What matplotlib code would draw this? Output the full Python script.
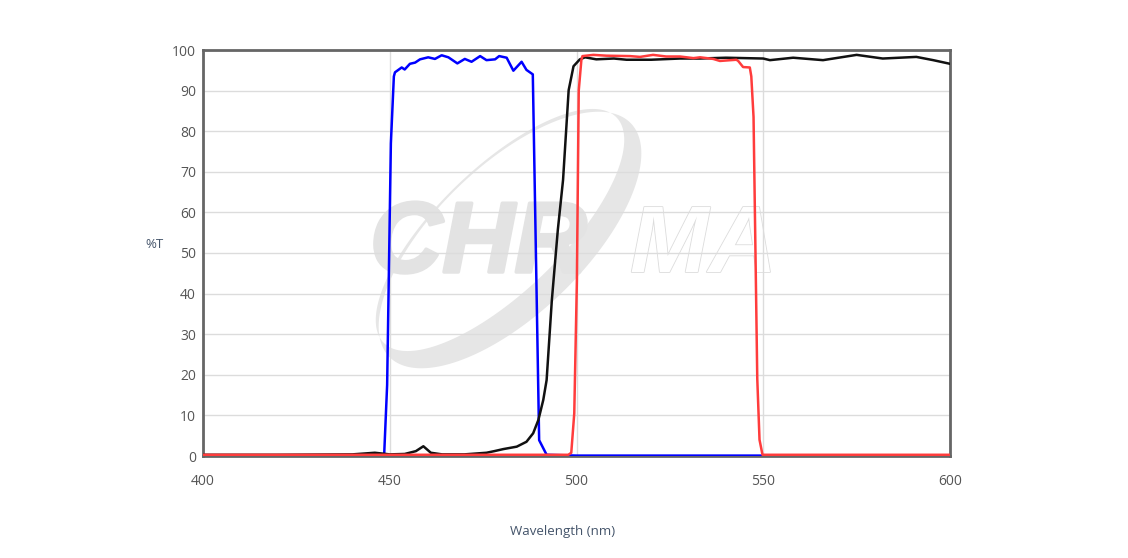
import numpy as np
import matplotlib
matplotlib.use("Agg")
import matplotlib.pyplot as plt
import matplotlib.patheffects as pe

plt.rcParams['font.family'] = ['Open Sans', 'DejaVu Sans']

# transmission curves (wavelength nm, %T)
blue_wl = [400, 420, 440, 448.5, 449.3, 450.3, 451.1, 451.4, 453.2, 454.0, 455.4, 456.8,
           458.1, 460.3, 462.1, 463.9, 465.7, 468.1, 470.1, 471.9, 474.2, 475.9, 478.2,
           479.3, 481.3, 483.1, 485.3, 486.6, 488.3, 490.0, 492.0, 500, 550, 600]
blue_t = [0.1, 0.1, 0.1, 0.2, 17.5, 77, 93.5, 94.5, 95.7, 95.2, 96.6, 96.9,
          97.7, 98.2, 97.8, 98.7, 98.2, 96.7, 97.8, 97.1, 98.5, 97.5, 97.7,
          98.5, 98.1, 94.9, 97.1, 95.1, 94.0, 3.9, 0.3, 0.1, 0.1, 0.1]

black_wl = [400, 420, 440, 446, 450, 454, 457, 459, 461, 464, 470, 475.9, 478, 480.4,
            484, 486.6, 488.4, 489.8, 491.1, 492, 493.4, 495, 496.4, 497.9, 499.2, 500.9,
            502.3, 505.3, 510, 513.4, 520, 527.7, 533.1, 540, 545, 550, 551.8, 558, 566,
            575, 582, 591, 595.5, 600]
black_t = [0.3, 0.3, 0.4, 0.8, 0.4, 0.5, 1.2, 2.4, 0.8, 0.4, 0.4, 0.8, 1.2, 1.7,
           2.3, 3.5, 5.6, 8.9, 13.8, 18.7, 38.4, 55.7, 68, 90.1, 96, 97.7,
           98.2, 97.7, 97.9, 97.6, 97.6, 97.9, 97.9, 98.1, 98.0, 97.9, 97.5, 98.1, 97.5,
           98.8, 97.9, 98.3, 97.5, 96.6]

red_wl = [400, 450, 497.8, 498.6, 499.4, 500.1, 500.6, 501.3, 501.6, 504.5, 508, 514.3,
          517, 520.5, 524, 527.7, 531.3, 533.1, 536.6, 538.4, 542.8, 543.3, 544.6, 546.4,
          546.8, 547.4, 548.4, 549.0, 549.8, 555, 600]
red_t = [0.3, 0.3, 0.3, 0.8, 10.5, 43, 90, 97.5, 98.5, 98.8, 98.6, 98.5,
         98.3, 98.8, 98.4, 98.4, 98, 98.2, 97.8, 97.3, 97.6, 97.3, 95.8, 95.7,
         93.5, 83.5, 19, 4, 0.3, 0.3, 0.3]

x_ticks = [400, 450, 500, 550, 600]
y_ticks = list(range(0, 101, 10))

W, H = 1128, 558
fig = plt.figure(figsize=(W / 100, H / 100), dpi=100)
ax = fig.add_axes([203 / W, 1 - 456 / H, (950 - 203) / W, (456 - 50) / H])


def px(x, y):
    # pixel position -> figure fraction
    return np.asarray(x) / W, 1 - np.asarray(y) / H


def ring(cx, cy, a, b, deg):
    t = np.linspace(0, 2 * np.pi, 300)
    r = np.deg2rad(-deg)
    ex, ey = a * np.cos(t), b * np.sin(t)
    return cx + ex * np.cos(r) - ey * np.sin(r), cy + ex * np.sin(r) + ey * np.cos(r)


# watermark: swoosh crescent + CHROMA letters
outer = ring(510, 240, 168, 74, 44)
inner = ring(500, 230, 162, 62, 44)
cx = np.concatenate([outer[0], inner[0][::-1]])
cy = np.concatenate([outer[1], inner[1][::-1]])
fx, fy = px(cx, cy)
ax.fill(fx, fy, color='#e6e6e6', transform=fig.transFigure, zorder=0.1, lw=0)

tx, ty = px(370, 272)
ax.text(tx, ty, 'CHR', transform=fig.transFigure, fontsize=72, fontweight='bold',
        style='italic', family=['Liberation Sans'], color='#e3e3e3', zorder=0.2,
        ha='left', va='baseline',
        path_effects=[pe.withStroke(linewidth=2.5, foreground='#e3e3e3')])
tx, ty = px(630, 272)
ax.text(tx, ty, 'MA', transform=fig.transFigure, fontsize=68, fontweight='bold',
        style='italic', family=['Liberation Sans'], color='white', zorder=0.2,
        ha='left', va='baseline',
        path_effects=[pe.withStroke(linewidth=1.2, foreground='#dcdcdc')])

ax.plot(blue_wl, blue_t, color='#0000ff', lw=1.8, zorder=3)
ax.plot(black_wl, black_t, color='#111111', lw=1.8, zorder=4)
ax.plot(red_wl, red_t, color='#ff3c3c', lw=1.8, zorder=5)

ax.set_xlim(400, 600)
ax.set_ylim(0, 100)
ax.set_xticks(x_ticks)
ax.set_yticks(y_ticks)
ax.set_axisbelow(True)
ax.grid(True, color='#dcdcdc', lw=1)
ax.tick_params(length=0, labelsize=10, labelcolor='#555555')
ax.tick_params(axis='x', pad=13)
ax.tick_params(axis='y', pad=5)
for s in ax.spines.values():
    s.set_color('#666666')
    s.set_linewidth(2)

fig.text(155 / W, 1 - 245 / H, '%T', ha='center', va='center', fontsize=9.5, color='#44546a')
fig.text(563 / W, 1 - 532 / H, 'Wavelength (nm)', ha='center', va='center', fontsize=9.5,
         color='#44546a')

fig.savefig('out.png', dpi=100)
